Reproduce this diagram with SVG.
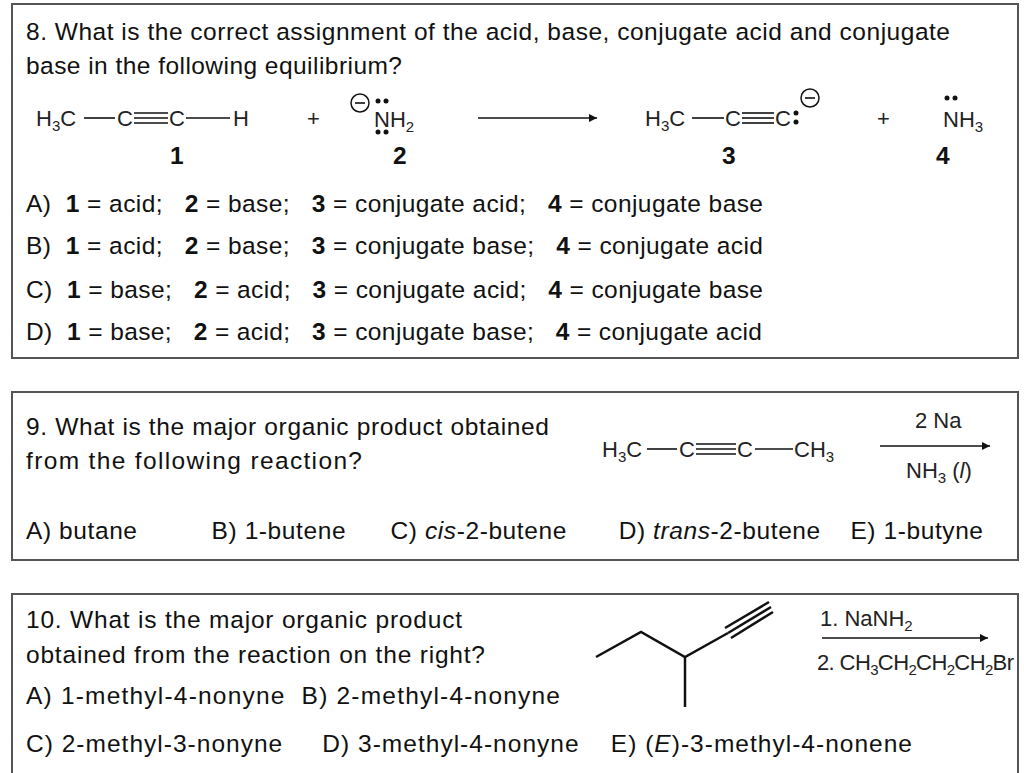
<svg xmlns="http://www.w3.org/2000/svg" width="1024" height="773" viewBox="0 0 1024 773">
<defs>
<style>
.q{font-family:"Liberation Sans",Arial,sans-serif;font-size:24.5px;fill:#111}
.b{font-weight:bold}
.c{font-family:"Liberation Sans",Arial,sans-serif;font-size:22px;fill:#222}
.s{font-size:15px}
.box{fill:#fff;stroke:#555;stroke-width:2}
.ln{stroke:#111;stroke-width:1.6;fill:none}
.bd{stroke:#111;stroke-width:2.5;fill:none}
</style>
<marker id="ah" viewBox="0 0 10 10" refX="10" refY="5" markerWidth="16" markerHeight="8" orient="auto" markerUnits="userSpaceOnUse"><path d="M0,0L10,5L0,10z" fill="#111"/></marker>
</defs>
<rect width="1024" height="773" fill="#fff"/>
<g id="box8">
<rect class="box" x="12" y="4" width="1006" height="354"/>
<text class="q" x="26" y="40" textLength="924">8. What is the correct assignment of the acid, base, conjugate acid and conjugate</text>
<text class="q" x="26" y="74" textLength="376">base in the following equilibrium?</text>
<text class="c" x="36" y="126">H<tspan class="s" dy="5">3</tspan><tspan dy="-5">C</tspan></text>
<line class="ln" x1="84" y1="118" x2="115" y2="118"/>
<text class="c" x="117" y="126">C</text>
<line class="ln" x1="134" y1="113" x2="168" y2="113"/><line class="ln" x1="134" y1="118" x2="168" y2="118"/><line class="ln" x1="134" y1="123" x2="168" y2="123"/>
<text class="c" x="169" y="126">C</text>
<line class="ln" x1="186" y1="118" x2="230" y2="118"/>
<text class="c" x="233" y="126">H</text>
<text class="c" x="307" y="126" font-size="18">+</text>
<circle cx="360" cy="103" r="9" fill="none" stroke="#111" stroke-width="1.5"/><line class="ln" x1="355" y1="103" x2="365" y2="103"/>
<text class="c" x="374" y="127">NH<tspan class="s" dy="5">2</tspan></text>
<circle cx="378" cy="101" r="2.5" fill="#111"/><circle cx="386" cy="101" r="2.5" fill="#111"/>
<circle cx="378" cy="132" r="2.5" fill="#111"/><circle cx="386" cy="132" r="2.5" fill="#111"/>
<text class="c" x="645" y="126">H<tspan class="s" dy="5">3</tspan><tspan dy="-5">C</tspan></text>
<line class="ln" x1="692" y1="118" x2="724" y2="118"/>
<text class="c" x="725" y="126">C</text>
<line class="ln" x1="742" y1="113" x2="774" y2="113"/><line class="ln" x1="742" y1="118" x2="774" y2="118"/><line class="ln" x1="742" y1="123" x2="774" y2="123"/>
<text class="c" x="775" y="126">C</text>
<circle cx="796" cy="113" r="2.5" fill="#111"/><circle cx="796" cy="122" r="2.5" fill="#111"/>
<circle cx="810" cy="98" r="9" fill="none" stroke="#111" stroke-width="1.5"/><line class="ln" x1="805" y1="98" x2="815" y2="98"/>
<text class="c" x="877" y="126" font-size="18">+</text>
<text class="c" x="943" y="127">NH<tspan class="s" dy="5">3</tspan></text>
<circle cx="947" cy="98" r="2.5" fill="#111"/><circle cx="955" cy="98" r="2.5" fill="#111"/>
<text class="q b" x="170" y="164" font-size="18">1</text>
<text class="q b" x="393" y="164" font-size="18">2</text>
<text class="q b" x="722" y="164" font-size="18">3</text>
<text class="q b" x="936" y="164" font-size="18">4</text>
<text class="q" x="26" y="212" textLength="737" xml:space="preserve">A)  <tspan class="b">1</tspan> = acid;   <tspan class="b">2</tspan> = base;   <tspan class="b">3</tspan> = conjugate acid;   <tspan class="b">4</tspan> = conjugate base</text>
<text class="q" x="26" y="254" textLength="737" xml:space="preserve">B)  <tspan class="b">1</tspan> = acid;   <tspan class="b">2</tspan> = base;   <tspan class="b">3</tspan> = conjugate base;   <tspan class="b">4</tspan> = conjugate acid</text>
<text class="q" x="26" y="298" textLength="737" xml:space="preserve">C)  <tspan class="b">1</tspan> = base;   <tspan class="b">2</tspan> = acid;   <tspan class="b">3</tspan> = conjugate acid;   <tspan class="b">4</tspan> = conjugate base</text>
<text class="q" x="26" y="340" textLength="736" xml:space="preserve">D)  <tspan class="b">1</tspan> = base;   <tspan class="b">2</tspan> = acid;   <tspan class="b">3</tspan> = conjugate base;   <tspan class="b">4</tspan> = conjugate acid</text>
</g>
<g id="box9">
<rect class="box" x="12" y="392" width="1006" height="168"/>
<text class="q" x="26" y="435" textLength="523">9. What is the major organic product obtained</text>
<text class="q" x="26" y="469" textLength="336">from the following reaction?</text>
<text class="c" x="602" y="457">H<tspan class="s" dy="5">3</tspan><tspan dy="-5">C</tspan></text>
<line class="ln" x1="647" y1="449" x2="677" y2="449"/>
<text class="c" x="679" y="457">C</text>
<line class="ln" x1="696" y1="444" x2="736" y2="444"/><line class="ln" x1="696" y1="449" x2="736" y2="449"/><line class="ln" x1="696" y1="454" x2="736" y2="454"/>
<text class="c" x="737" y="457">C</text>
<line class="ln" x1="755" y1="449" x2="793" y2="449"/>
<text class="c" x="794" y="457">CH<tspan class="s" dy="5">3</tspan></text>
<text class="c" x="915" y="428" font-size="19">2 Na</text>
<text class="c" x="906" y="478" font-size="19">NH<tspan class="s" dy="5">3</tspan><tspan dy="-5"> (<tspan font-style="italic">l</tspan>)</tspan></text>
<text class="q" x="26" y="539" textLength="957" xml:space="preserve">A) butane          B) 1-butene      C) <tspan font-style="italic">cis</tspan>-2-butene       D) <tspan font-style="italic">trans</tspan>-2-butene    E) 1-butyne</text>
</g>
<g id="box10">
<rect class="box" x="12" y="594" width="1006" height="185"/>
<text class="q" x="26" y="628" textLength="436">10. What is the major organic product</text>
<text class="q" x="26" y="663" textLength="459">obtained from the reaction on the right?</text>
<text class="q" x="26" y="704" textLength="534" xml:space="preserve">A) 1-methyl-4-nonyne  B) 2-methyl-4-nonyne</text>
<text class="q" x="26" y="752" textLength="886" xml:space="preserve">C) 2-methyl-3-nonyne     D) 3-methyl-4-nonyne    E) (<tspan font-style="italic">E</tspan>)-3-methyl-4-nonene</text>
<polyline class="bd" points="596,657 641,632 685,657 728,633"/>
<line class="bd" x1="685" y1="657" x2="685" y2="707"/>
<line class="bd" x1="728" y1="633" x2="771" y2="607"/>
<line class="bd" x1="725" y1="628" x2="769" y2="602"/>
<line class="bd" x1="731" y1="638" x2="773" y2="612"/>
<text class="c" x="820" y="626" font-size="17">1. NaNH<tspan class="s" dy="5">2</tspan></text>
<text class="c" x="817" y="670" font-size="16" textLength="197">2. CH<tspan class="s" dy="5">3</tspan><tspan dy="-5">CH</tspan><tspan class="s" dy="5">2</tspan><tspan dy="-5">CH</tspan><tspan class="s" dy="5">2</tspan><tspan dy="-5">CH</tspan><tspan class="s" dy="5">2</tspan><tspan dy="-5">Br</tspan></text>
</g>
<g id="connectors">
<line class="ln" x1="478" y1="118" x2="597" y2="118" marker-end="url(#ah)"/>
<line class="ln" x1="880" y1="446" x2="990" y2="446" marker-end="url(#ah)"/>
<line class="ln" x1="822" y1="638" x2="988" y2="638" marker-end="url(#ah)"/>
</g>
</svg>
